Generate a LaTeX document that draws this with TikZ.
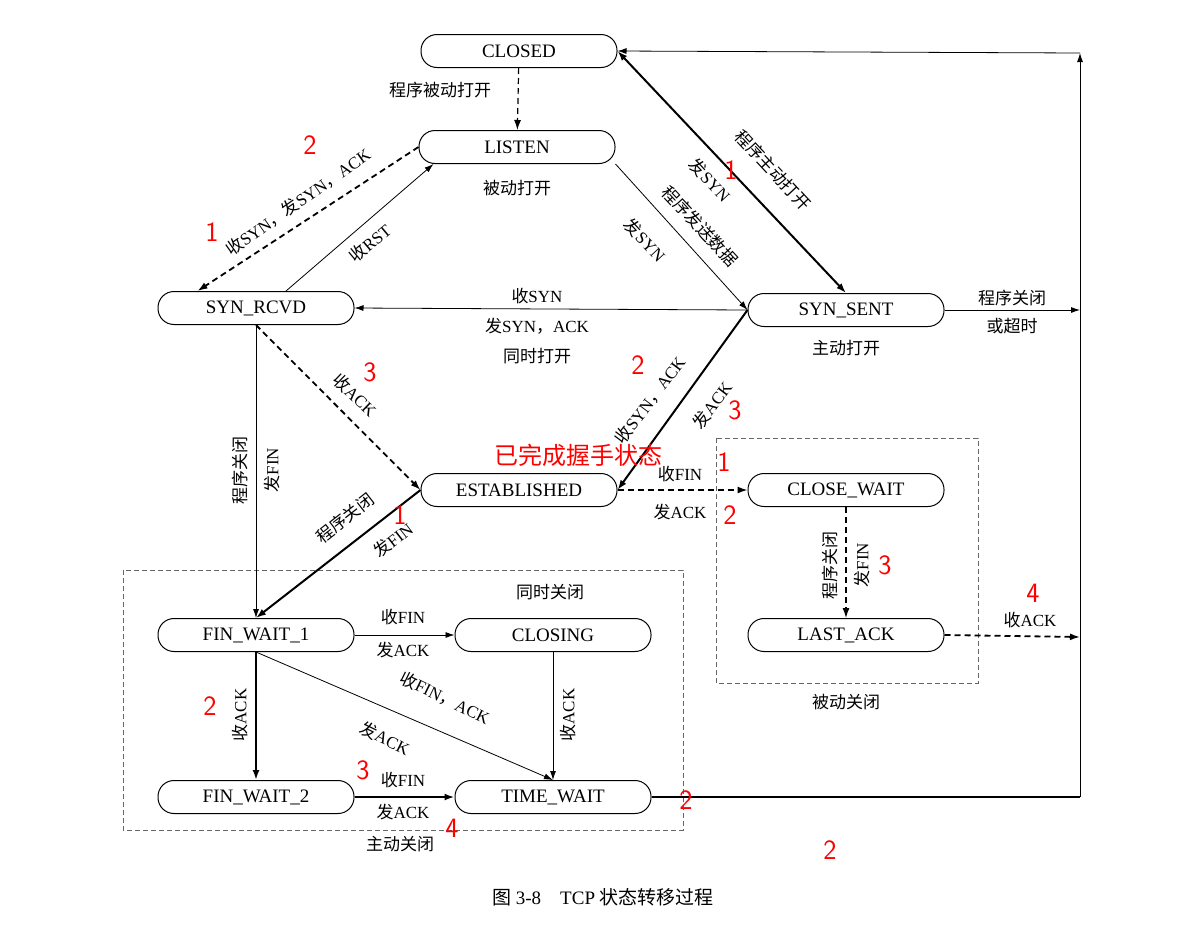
\documentclass[tikz,border=0pt]{standalone}
\usepackage{fontspec}
\setmainfont{Liberation Serif}
\newfontfamily\cjk{Noto Sans CJK SC}
\newcommand{\C}[1]{{\cjk #1}}
\usetikzlibrary{arrows.meta,calc}
\begin{document}
\begin{tikzpicture}[x=1pt,y=-1pt,
  st/.style={draw,rounded corners=16pt,minimum width=196pt,minimum height=33pt,font=\fontsize{19}{20}\selectfont,inner sep=0pt,line width=1pt},
  lb/.style={font=\fontsize{17}{19}\selectfont,inner sep=1pt},
  tn/.style={line width=0.8pt,-{Latex[length=9pt,width=6pt]}},
  tk/.style={line width=2pt,-{Latex[length=10pt,width=7pt]}},
  ds/.style={line width=1.8pt,dash pattern=on 6pt off 4pt,-{Latex[length=10pt,width=7pt]}},
  box/.style={draw,line width=0.9pt,dash pattern=on 5pt off 3pt,gray!80!black},
  rd/.style={text=red,font=\fontsize{28}{30}\selectfont\sffamily}]
\useasboundingbox (0,0) rectangle (1203,930);
\fill[white] (0,0) rectangle (1203,930);
% boxes
\draw[box] (123,570) rectangle (683,830);
\draw[box] (716,438) rectangle (978,683);
% states
\node[st] (closed) at (519,51) {CLOSED};
\node[st] (listen) at (517,147) {LISTEN};
\node[st] (synr) at (256,308) {SYN\_RCVD};
\node[st] (syns) at (846,310) {SYN\_SENT};
\node[st] (est) at (519,490) {ESTABLISHED};
\node[st] (cw) at (846,490) {CLOSE\_WAIT};
\node[st] (fw1) at (256,635) {FIN\_WAIT\_1};
\node[st] (closing) at (553,635) {CLOSING};
\node[st] (la) at (846,635) {LAST\_ACK};
\node[st] (fw2) at (256,797) {FIN\_WAIT\_2};
\node[st] (tw) at (553,797) {TIME\_WAIT};
\coordinate (r1) at (1080,310);
\coordinate (r2) at (1080,797);
\coordinate (r3) at (1080,637);
\coordinate (rt) at (1080,53);
% edges
\draw[ds,line width=1.2pt] (closed) -- (listen);
\draw[ds] (listen.west) -- ($(synr.north west)+(40,0)$);
\draw[tn] ($(synr.north)+(30,0)$) -- ($(listen.south west)+(15,0)$);
\draw[tn] (listen.south east) -- (syns.west);
\draw[tk,{Latex[length=10pt,width=7pt]}-{Latex[length=10pt,width=7pt]}] (closed.east) -- (syns.north);
\draw[tn] (syns.west) -- (synr.east);
\draw[tn] (syns.east) -- (r1);
\draw[tn] (r2) -- (rt);
\draw[tn] (rt) -- (closed.east);
\draw[ds] (synr.south) -- (est.west);
\draw[tk] (syns.west) -- (est.east);
\draw[tn] (synr.south) -- (fw1.north);
\draw[tk] (est.west) -- (fw1.north);
\draw[ds,line width=1.4pt] (est.east) -- (cw.west);
\draw[ds,line width=1.2pt] (cw.south) -- (la.north);
\draw[ds] (la.east) -- (r3);
\draw[tn] (fw1.east) -- (closing.west);
\draw[tk] (fw1.south) -- (fw2.north);
\draw[tn] (fw1.south) -- (tw.north);
\draw[tn] (closing.south) -- (tw.north);
\draw[tk] (fw2.east) -- (tw.west);
\draw[tk,-] (tw.east) -- (r2);
% labels
\node[lb] at (440,90) {\C{程序被动打开}};
\node[lb] at (517,188) {\C{被动打开}};
\node[lb,rotate=35] at (298,202) {\C{收}SYN\C{，发}SYN\C{，}ACK};
\node[lb,rotate=40] at (370,243) {\C{收}RST};
\node[lb,rotate=-47] at (700,226) {\C{程序发送数据}};
\node[lb,rotate=-47] at (645,240) {\C{发}SYN};
\node[lb,rotate=-47] at (773,170) {\C{程序主动打开}};
\node[lb,rotate=-47] at (710,180) {\C{发}SYN};
\node[lb] at (537,296) {\C{收}SYN};
\node[lb] at (537,326) {\C{发}SYN\C{，}ACK};
\node[lb] at (537,356) {\C{同时打开}};
\node[lb] at (846,348) {\C{主动打开}};
\node[lb] at (1012,298) {\C{程序关闭}};
\node[lb] at (1012,326) {\C{或超时}};
\node[lb,rotate=-44] at (355,395) {\C{收}ACK};
\node[lb,rotate=53] at (650,400) {\C{收}SYN\C{，}ACK};
\node[lb,rotate=53] at (712,405) {\C{发}ACK};
\node[lb,rotate=90] at (240,470) {\C{程序关闭}};
\node[lb,rotate=90] at (272,470) {\C{发}FIN};
\node[lb,rotate=38] at (345,518) {\C{程序关闭}};
\node[lb,rotate=38] at (393,540) {\C{发}FIN};
\node[lb] at (680,474) {\C{收}FIN};
\node[lb] at (680,512) {\C{发}ACK};
\node[lb,rotate=90] at (830,565) {\C{程序关闭}};
\node[lb,rotate=90] at (862,565) {\C{发}FIN};
\node[lb] at (1030,620) {\C{收}ACK};
\node[lb] at (846,702) {\C{被动关闭}};
\node[lb] at (550,592) {\C{同时关闭}};
\node[lb] at (403,617) {\C{收}FIN};
\node[lb] at (403,650) {\C{发}ACK};
\node[lb,rotate=90] at (240,715) {\C{收}ACK};
\node[lb,rotate=90] at (568,715) {\C{收}ACK};
\node[lb,rotate=-26] at (445,698) {\C{收}FIN\C{，}ACK};
\node[lb,rotate=-26] at (385,738) {\C{发}ACK};
\node[lb] at (403,780) {\C{收}FIN};
\node[lb] at (403,812) {\C{发}ACK};
\node[lb] at (400,844) {\C{主动关闭}};
\node[font=\fontsize{19}{21}\selectfont] at (603,897) {\C{图} 3-8\quad TCP \C{状态转移过程}};
% red annotations
\node[text=red,font=\fontsize{24}{26}\selectfont\cjk] at (578,455) {已完成握手状态};
\node[rd] at (310,145) {2};
\node[rd] at (212,232) {1};
\node[rd] at (731,170) {1};
\node[rd] at (638,365) {2};
\node[rd] at (370,372) {3};
\node[rd] at (735,410) {3};
\node[rd] at (724,462) {1};
\node[rd] at (730,515) {2};
\node[rd] at (400,515) {1};
\node[rd] at (885,565) {3};
\node[rd] at (1033,593) {4};
\node[rd] at (210,706) {2};
\node[rd] at (363,770) {3};
\node[rd] at (452,828) {4};
\node[rd] at (686,800) {2};
\node[rd] at (830,850) {2};
\end{tikzpicture}
\end{document}
